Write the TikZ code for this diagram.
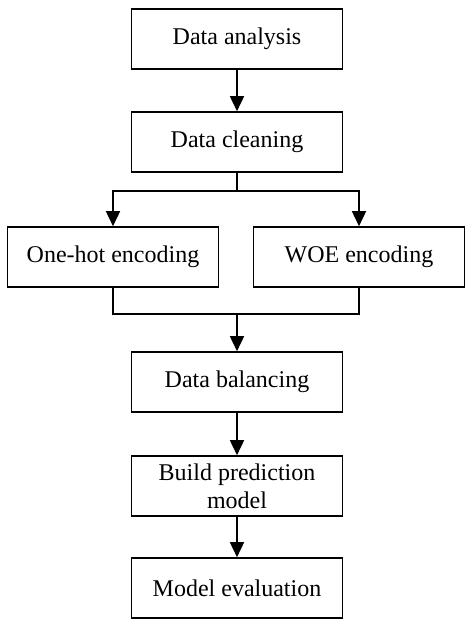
\documentclass[tikz,border=0pt]{standalone}
\usepackage{fontspec}
\setmainfont{Liberation Serif}
\usetikzlibrary{arrows.meta}
\tikzset{
	procbox/.style={draw,line width=1.6pt,minimum width=211pt,minimum height=60pt,inner sep=0pt,align=center,font=\fontsize{24}{28}\selectfont},
	flow/.style={line width=1.6pt},
	flowarr/.style={flow,-{Triangle[length=15pt,width=14pt]}}
}
\begin{document}
\begin{tikzpicture}[x=1pt,y=-1pt]
	\useasboundingbox (0,0) rectangle (474,624);
	\node[procbox] (analysis) at (237,39) {Data analysis};
	\node[procbox] (cleaning) at (237,142) {Data cleaning};
	\node[procbox] (onehot) at (113,257) {One-hot encoding};
	\node[procbox] (woe) at (359,257) {WOE encoding};
	\node[procbox] (balancing) at (237,382) {Data balancing};
	\node[procbox] (build) at (237,486) {Build prediction\\model};
	\node[procbox] (evaluation) at (237,588) {Model evaluation};
	\coordinate (split) at (237,191);
	\coordinate (merge) at (237,314);
	\draw[flowarr] (analysis) -- (cleaning);
	\draw[flow] (cleaning) -- (split);
	\draw[flowarr] (split) -| (onehot);
	\draw[flowarr] (split) -| (woe);
	\draw[flow] (onehot) |- (merge) -| (woe);
	\draw[flowarr] (merge) -- (balancing);
	\draw[flowarr] (balancing) -- (build);
	\draw[flowarr] (build) -- (evaluation);
\end{tikzpicture}
\end{document}
